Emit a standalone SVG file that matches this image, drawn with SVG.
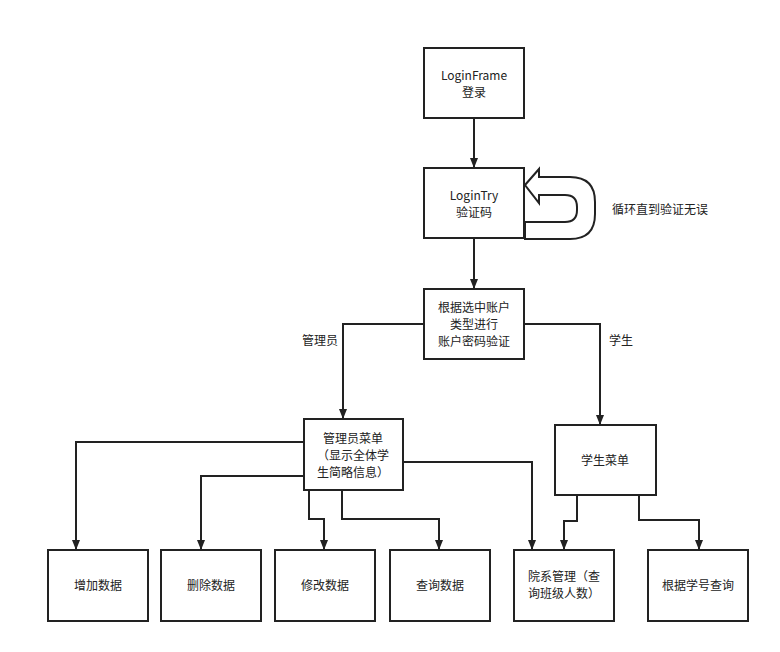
<svg xmlns="http://www.w3.org/2000/svg" width="780" height="652" viewBox="0 0 780 652">
<style>
.n{fill:#fff;stroke:#222;stroke-width:2}
.c{fill:none;stroke:#222;stroke-width:2}
text{font-family:"Noto Sans CJK SC","Noto Sans",sans-serif;font-size:12px;fill:#222;text-anchor:middle}
</style>
<defs><marker id="a" markerWidth="10" markerHeight="10" refX="9" refY="5" orient="auto" markerUnits="userSpaceOnUse"><path d="M0,1 L10,5 L0,9 Z" fill="#222"/></marker></defs>
<rect width="780" height="652" fill="#fff"/>
<g id="connectors">
<path class="c" d="M474,118 V167" marker-end="url(#a)"/>
<path class="c" d="M474,238 V288" marker-end="url(#a)"/>
<path class="c" d="M424,324 H343 V418" marker-end="url(#a)"/>
<path class="c" d="M524,324 H600 V424" marker-end="url(#a)"/>
<path class="c" d="M304,442 H76 V549" marker-end="url(#a)"/>
<path class="c" d="M304,476 H201 V549" marker-end="url(#a)"/>
<path class="c" d="M309,490 V519 H324 V549" marker-end="url(#a)"/>
<path class="c" d="M342,490 V519 H439 V549" marker-end="url(#a)"/>
<path class="c" d="M403,462 H532 V549" marker-end="url(#a)"/>
<path class="c" d="M577,495 V521 H564 V549" marker-end="url(#a)"/>
<path class="c" d="M639,495 V520 H699 V549" marker-end="url(#a)"/>
<path fill="#fff" stroke="#222" stroke-width="2" d="M525,185 L539,169 L539,177 L570,177 Q595,177 595,202 L595,214 Q595,239 570,239 L525,239 L525,222 L565,222 Q577,222 577,210 L577,207 Q577,195 565,195 L539,195 L539,203 Z"/>
<text x="320" y="345">管理员</text>
<text x="621" y="345">学生</text>
<text x="660" y="214">循环直到验证无误</text>
</g>
<g id="loginframe"><rect class="n" x="424" y="48" width="100" height="70"/><text x="474" y="80">LoginFrame</text><text x="474" y="97">登录</text></g>
<g id="logintry"><rect class="n" x="424" y="168" width="100" height="70"/><text x="474" y="200">LoginTry</text><text x="474" y="217">验证码</text></g>
<g id="verify"><rect class="n" x="424" y="289" width="100" height="70"/><text x="474" y="312">根据选中账户</text><text x="474" y="329">类型进行</text><text x="474" y="346">账户密码验证</text></g>
<g id="admin"><rect class="n" x="304" y="419" width="99" height="71"/><text x="353" y="443">管理员菜单</text><text x="353" y="460">（显示全体学</text><text x="353" y="477">生简略信息）</text></g>
<g id="student"><rect class="n" x="555" y="425" width="101" height="70"/><text x="605" y="465">学生菜单</text></g>
<g id="add"><rect class="n" x="48" y="550" width="100" height="71"/><text x="98" y="590">增加数据</text></g>
<g id="del"><rect class="n" x="161" y="550" width="100" height="71"/><text x="211" y="590">删除数据</text></g>
<g id="mod"><rect class="n" x="275" y="550" width="100" height="71"/><text x="325" y="590">修改数据</text></g>
<g id="query"><rect class="n" x="390" y="550" width="100" height="71"/><text x="440" y="590">查询数据</text></g>
<g id="dept"><rect class="n" x="514" y="550" width="100" height="71"/><text x="564" y="581">院系管理（查</text><text x="564" y="598">询班级人数）</text></g>
<g id="byid"><rect class="n" x="648" y="550" width="100" height="71"/><text x="698" y="590">根据学号查询</text></g>
</svg>
